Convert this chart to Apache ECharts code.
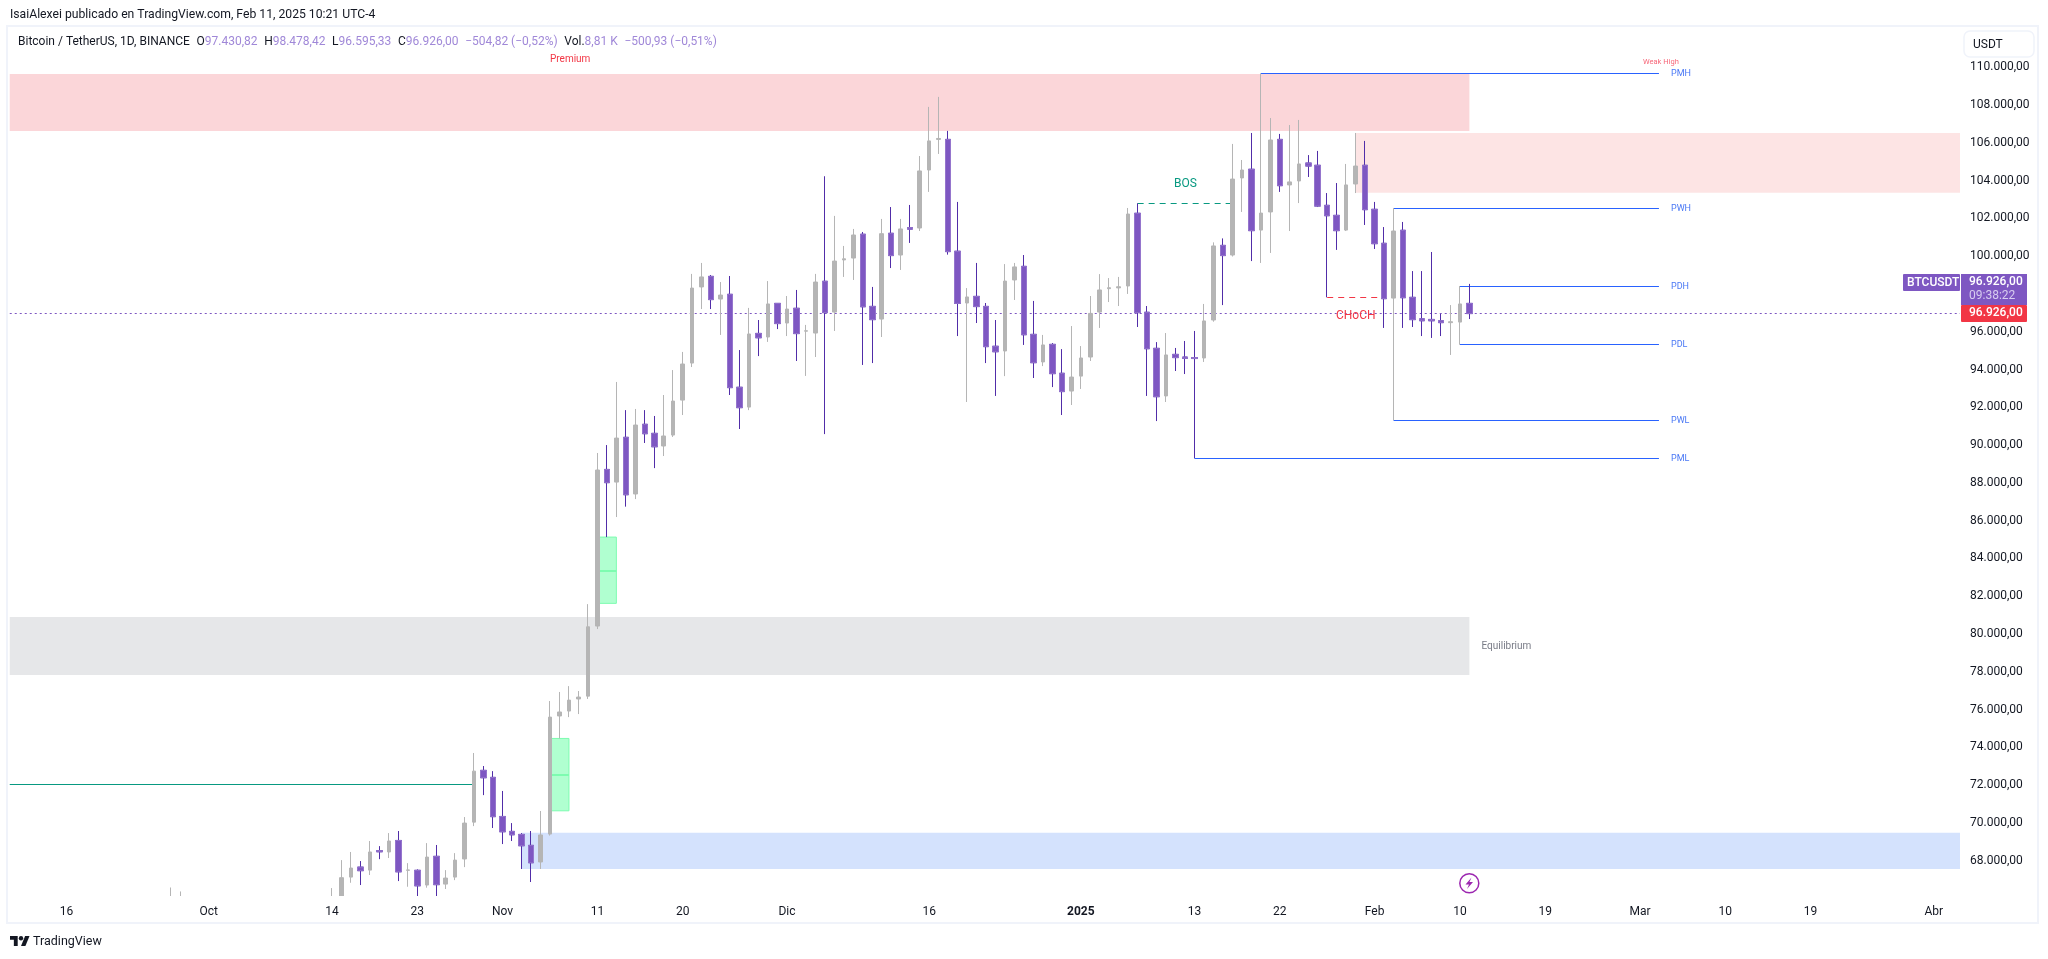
<!DOCTYPE html>
<html>
<head>
<meta charset="utf-8">
<title>BTCUSDT 1D</title>
<script src="https://cdn.jsdelivr.net/npm/echarts@6/dist/echarts.min.js"></script>
<style>
  html, body { margin: 0; padding: 0; background: #fff; }
  #container { width: 2048px; height: 959px; }
</style>
</head>
<body>
<div id="container"></div>
<script>
// daily candles per month, each row is [open, high, low, close]
const sep24 = [ // from Sep 27
    [65200, 66450, 64800, 65770], [65770, 66240, 65400, 65860]
];
const oct24 = [ // from Oct 14
    [63000, 66420, 62800, 65950], [65950, 67900, 64800, 66970], [67000, 68330, 66700, 67480],
    [67530, 67850, 66580, 67340], [67370, 68910, 67110, 68330], [68400, 68640, 67950, 68340],
    [68330, 69330, 68010, 68910], [68940, 69440, 66790, 67280], [67360, 67740, 66490, 67380],
    [67360, 67410, 65300, 66540], [66580, 68800, 66440, 68060], [68100, 68700, 65500, 66600],
    [66630, 67370, 66370, 66950], [67000, 68270, 66840, 67900], [67960, 70180, 67530, 69860],
    [69910, 73570, 69700, 72610], [72650, 72880, 71340, 72260], [72280, 72610, 69600, 70200]
];
const nov24 = [
    [70210, 71560, 68750, 69400], [69420, 69860, 68910, 69240], [69260, 69330, 67430, 68660],
    [68680, 69440, 66740, 67760], [67800, 70500, 67430, 69230], [69280, 76320, 69200, 75470],
    [75530, 76800, 74340, 75740], [75790, 77110, 75470, 76370], [76430, 76850, 75630, 76530],
    [76580, 81450, 76430, 80250], [80290, 89450, 80130, 88550], [88580, 89870, 85000, 87880],
    [87910, 93210, 86060, 90240], [90280, 91720, 86610, 87240], [87280, 91780, 87010, 90930],
    [90970, 91720, 89980, 90470], [90490, 91410, 88650, 89780], [89820, 92520, 89290, 90350],
    [90400, 93840, 90300, 92200], [92250, 94800, 91460, 94160], [94210, 98930, 94000, 98180],
    [98240, 99510, 97070, 98770], [98800, 98870, 97070, 97570], [97600, 98500, 95700, 97810],
    [97850, 98820, 92520, 92910], [92930, 94900, 90720, 91850], [91880, 97130, 91720, 95750],
    [95780, 96490, 94580, 95550], [95590, 98550, 95330, 97340], [97370, 97370, 96010, 96300]
];
const dec24 = [
    [96330, 97760, 95640, 97070], [97110, 98080, 94320, 95770], [95900, 96230, 93530, 95920],
    [95800, 98930, 94530, 98500], [98540, 104100, 90450, 96880], [96910, 102000, 95910, 99610],
    [99670, 100410, 98770, 99730], [99770, 101310, 98610, 100990], [101030, 101150, 94110, 97190],
    [97210, 98240, 94210, 96510], [96540, 101840, 95590, 101060], [101080, 102470, 99240, 99900],
    [99930, 101840, 99140, 101310], [101380, 102580, 100570, 101300], [101360, 105170, 101200, 104380],
    [104430, 107770, 103270, 105970], [106050, 108300, 105280, 106100], [106050, 106500, 99950, 100110],
    [100130, 102740, 95640, 97370], [97390, 98180, 92150, 97710], [97740, 99510, 96330, 97200],
    [97210, 97390, 94210, 95080], [95100, 96490, 92470, 94810], [94850, 99450, 93520, 98550],
    [98610, 99510, 97550, 99300], [99330, 99930, 95170, 95710], [95730, 97500, 93420, 94230],
    [94270, 95700, 94050, 95170], [95200, 95270, 92940, 93650], [93670, 94950, 91460, 92700],
    [92730, 96170, 91990, 93470]
];
const jan25 = [
    [93520, 95110, 92840, 94480], [94530, 97760, 94320, 96840], [96910, 98920, 96070, 98080],
    [98150, 98710, 97440, 98200], [98190, 98770, 97230, 98250], [98290, 102420, 97870, 102100],
    [102140, 102670, 96120, 96880], [96900, 97230, 92470, 94970], [94990, 95320, 91140, 92430],
    [92470, 95800, 92150, 94640], [94670, 95010, 93790, 94500], [94530, 95380, 93630, 94460],
    [94500, 95910, 89170, 94450], [94480, 97340, 94270, 96440], [96490, 100600, 96400, 100410],
    [100440, 100810, 97280, 99900], [99930, 105810, 99850, 103950], [104010, 104960, 102210, 104430],
    [104470, 106390, 99610, 101220], [101250, 109550, 99510, 102150], [102210, 107180, 100040, 106020],
    [106050, 106340, 103270, 103600], [103640, 106810, 101200, 103800], [103850, 107080, 102680, 104750],
    [104800, 105220, 104060, 104640], [104680, 105440, 102470, 102520], [102560, 103210, 97690, 102010],
    [102030, 103740, 100200, 101220], [101250, 104750, 101200, 103640], [103690, 106390, 103210, 104640],
    [104680, 105970, 101520, 102330]
];
const feb25 = [
    [102350, 102740, 100250, 100530], [100550, 101410, 96070, 97620], [97650, 102420, 91180, 101200],
    [101240, 101680, 96070, 97670], [97690, 99080, 96120, 96510], [96550, 99080, 95640, 96450],
    [96520, 100090, 95540, 96450], [96450, 96810, 95640, 96350], [96350, 97280, 94640, 96400],
    [96380, 98290, 95180, 97340], [97370, 98400, 96540, 96830]
];
const candleMonths = [
    ['2024-09-27', sep24], ['2024-10-14', oct24], ['2024-11-01', nov24],
    ['2024-12-01', dec24], ['2025-01-01', jan25], ['2025-02-01', feb25]
];

// time axis
const firstDay = '2024-09-10';
const dayCount = 207;
const tickLabels = {
    '2024-09-16': '16', '2024-10-01': 'Oct', '2024-10-14': '14', '2024-10-23': '23',
    '2024-11-01': 'Nov', '2024-11-11': '11', '2024-11-20': '20', '2024-12-01': 'Dic',
    '2024-12-16': '16', '2025-01-01': '2025', '2025-01-13': '13', '2025-01-22': '22',
    '2025-02-01': 'Feb', '2025-02-10': '10', '2025-02-19': '19', '2025-03-01': 'Mar',
    '2025-03-10': '10', '2025-03-19': '19', '2025-04-01': 'Abr'
};

// shaded zones: [name, start day, end day, top price, bottom price]
const premiumZone = ['Premium', '2024-09-10', '2025-02-11', 109510, 106500];
const supplyZone = ['Supply', '2025-01-30', '2025-04-04', 106390, 103230];
const equilibriumZone = ['Equilibrium', '2024-09-10', '2025-02-11', 80770, 77700];
const discountZone = ['Discount', '2024-11-03', '2025-04-04', 69350, 67430];
const gapZones = [
    ['2024-11-06', '2024-11-08', 74340, 70510, 72400],
    ['2024-11-11', '2024-11-13', 85000, 81490, 83220]
];

// liquidity levels
const levelNames = ['PMH', 'PWH', 'PDH', 'PDL', 'PWL', 'PML'];
const levelValues = [109550, 102400, 98270, 95200, 91180, 89170];
const levelStarts = ['2025-01-20', '2025-02-03', '2025-02-10', '2025-02-10', '2025-02-03', '2025-01-13'];
const levelEnd = '2025-03-03';

// structure lines: [start day, end day, price]
const swingLine = ['2024-09-10', '2024-10-29', 71910];
const bosLine = ['2025-01-07', '2025-01-17', 102670];
const chochLine = ['2025-01-27', '2025-02-02', 97690];
const lastPrice = 96840;

const fontName = 'Roboto, sans-serif';
const ink = '#131722';
const legendPurple = '#a088d8';

const categories = [];
const startTime = Date.parse(firstDay + 'T00:00:00Z');
for (let i = 0; i < dayCount; i++) {
    categories.push(new Date(startTime + i * 86400000).toISOString().slice(0, 10));
}

const upData = categories.map(() => '-');
const downData = categories.map(() => '-');
const downBodies = categories.map(() => '-');
candleMonths.forEach(([start, rows]) => {
    const first = categories.indexOf(start);
    rows.forEach(([o, h, l, c], i) => {
        if (c >= o) {
            upData[first + i] = [o, c, l, h];
        } else {
            downData[first + i] = [o, c, l, h];
            downBodies[first + i] = [o, c, c, o];
        }
    });
});

function zoneArea(zone, color) {
    return [
        { coord: [zone[1], zone[3]], itemStyle: { color: color, borderWidth: 0 } },
        { coord: [zone[2], zone[4]] }
    ];
}

function segment(from, to, value, lineStyle, label) {
    const start = { coord: [from, value], lineStyle: lineStyle };
    if (label) start.label = label;
    return [start, { coord: [to, value] }];
}

const levelBlue = { color: '#2962ff', width: 1, type: 'solid' };
const lineData = [
    segment(swingLine[0], swingLine[1], swingLine[2], { color: '#089981', width: 1, type: 'solid' }),
    segment(bosLine[0], bosLine[1], bosLine[2], { color: '#089981', width: 1, type: [6, 5] }),
    segment(chochLine[0], chochLine[1], chochLine[2], { color: '#f23645', width: 1, type: [6, 5] }),
    segment(categories[0], categories[dayCount - 1], lastPrice, { color: '#7e57c2', width: 1, type: [2, 3] })
];
levelNames.forEach((name, i) => {
    lineData.push(segment(levelStarts[i], levelEnd, levelValues[i], levelBlue, {
        show: true, position: 'end', distance: 12, formatter: name,
        color: '#4a78f5', fontSize: 9, fontFamily: fontName
    }));
});
gapZones.forEach((gap) => {
    lineData.push(segment(gap[0], gap[1], gap[4], { color: '#7dfcb0', width: 2, type: 'solid' }));
});

const areaData = [
    zoneArea(premiumZone, '#fbd6d9'),
    zoneArea(supplyZone, '#fde4e4'),
    zoneArea(equilibriumZone, '#e6e7e9'),
    zoneArea(discountZone, '#d4e2fd')
];
gapZones.forEach((gap) => {
    areaData.push([
        { coord: [gap[0], gap[2]], itemStyle: { color: '#b0ffd0', borderColor: '#7dfcb0', borderWidth: 1 } },
        { coord: [gap[1], gap[3]] }
    ]);
});

function label(x, y, text, color, size, extra) {
    return {
        type: 'text', x: x, y: y, z: 50,
        style: Object.assign({
            text: text, fill: color, fontSize: size, fontFamily: fontName, verticalAlign: 'middle'
        }, extra || {})
    };
}

const legendRich = {
    d: { fill: ink, color: ink, fontSize: 12, fontFamily: fontName },
    p: { fill: legendPurple, color: legendPurple, fontSize: 12, fontFamily: fontName }
};

const graphic = [
    // masks so zones and candles stop at the pane edges
    { type: 'rect', z: 40, shape: { x: 0, y: 0, width: 7, height: 959 }, style: { fill: '#fff' } },
    { type: 'rect', z: 40, shape: { x: 1960, y: 27, width: 8, height: 870 }, style: { fill: '#fff' } },
    { type: 'rect', z: 40, shape: { x: 7, y: 896, width: 1962, height: 63 }, style: { fill: '#fff' } },
    { type: 'rect', z: 41, shape: { x: 7, y: 26, width: 2031, height: 897 }, style: { fill: 'none', stroke: '#f0f3fa', lineWidth: 2 } },
    label(10, 15, 'IsaiAlexei publicado en TradingView.com, Feb 11, 2025 10:21 UTC-4', ink, 12.2),
    {
        type: 'text', x: 18, y: 41.5, z: 50,
        style: {
            text: '{d|Bitcoin / TetherUS, 1D, BINANCE}  {d|O}{p|97.430,82}  {d|H}{p|98.478,42}  {d|L}{p|96.595,33}  {d|C}{p|96.926,00}  {p|−504,82 (−0,52%)}  {d|Vol.}{p|8,81 K}  {p|−500,93 (−0,51%)}',
            rich: legendRich, verticalAlign: 'middle'
        }
    },
    label(550, 59, 'Premium', '#f23645', 10),
    label(1643, 61.7, 'Weak High', '#f7687a', 7.5),
    label(1481.5, 646.5, 'Equilibrium', '#787b86', 10),
    label(1174, 183.7, 'BOS', '#089981', 12),
    label(1336, 316, 'CHoCH', '#f23645', 12),
    // price tags
    { type: 'rect', z: 45, shape: { x: 1903, y: 274, width: 57, height: 17, r: 1 }, style: { fill: '#7e57c2' } },
    label(1907, 282.5, 'BTCUSDT', '#fff', 12, { fontWeight: 500 }),
    { type: 'rect', z: 45, shape: { x: 1961, y: 274, width: 66, height: 31 }, style: { fill: '#7e57c2' } },
    label(1969, 281.7, '96.926,00', '#fff', 12, { fontWeight: 500 }),
    label(1969, 295.7, '09:38:22', '#d8cdf0', 12),
    { type: 'rect', z: 45, shape: { x: 1961, y: 305, width: 66, height: 17, r: 1 }, style: { fill: '#f23645' } },
    label(1969, 312.5, '96.926,00', '#fff', 12, { fontWeight: 500 }),
    // currency button
    { type: 'rect', z: 45, shape: { x: 1964, y: 31, width: 70, height: 26, r: 6 }, style: { fill: '#fff', stroke: '#f0f3fa', lineWidth: 1.5 } },
    label(1973, 44.5, 'USDT', ink, 12),
    // dividend flash mark
    { type: 'circle', z: 45, shape: { cx: 1469.3, cy: 883.3, r: 9.5 }, style: { fill: '#fff', stroke: '#9c27b0', lineWidth: 1.5 } },
    { type: 'polygon', z: 46, shape: { points: [[1471.5, 877.5], [1465.5, 884.5], [1469, 884.5], [1467, 889], [1473, 882], [1469.5, 882]] }, style: { fill: '#9c27b0' } },
    // footer logo
    {
        type: 'group', x: 10, y: 936, scaleX: 0.55, scaleY: 0.55, z: 50,
        children: [
            { type: 'polygon', z: 50, shape: { points: [[0, 0], [14, 0], [14, 18], [7, 18], [7, 7], [0, 7]] }, style: { fill: ink } },
            { type: 'circle', z: 50, shape: { cx: 20, cy: 4, r: 4 }, style: { fill: ink } },
            { type: 'polygon', z: 50, shape: { points: [[27.5, 0], [35.5, 0], [28, 18], [20, 18]] }, style: { fill: ink } }
        ]
    },
    label(33, 942, 'TradingView', ink, 12.5)
];

const chart = echarts.init(document.getElementById('container'), null, { renderer: 'canvas' });

const option = {
    animation: false,
    backgroundColor: '#fff',
    grid: { left: 5, top: 27, width: 1962, height: 869, containLabel: false },
    xAxis: {
        type: 'category',
        data: categories,
        boundaryGap: true,
        z: 60,
        axisLine: { show: false },
        axisTick: { show: false },
        splitLine: { show: false },
        axisLabel: {
            interval: (index, value) => value in tickLabels,
            hideOverlap: false,
            margin: 7,
            color: ink,
            fontSize: 12,
            fontFamily: fontName,
            padding: [3, 0, 0, 0],
            formatter: (value) => tickLabels[value] === '2025' ? '{b|2025}' : tickLabels[value],
            rich: { b: { fontWeight: 'bold', fontSize: 12, color: ink, fontFamily: fontName } }
        }
    },
    yAxis: {
        type: 'value',
        position: 'right',
        min: 66000,
        max: 112000,
        interval: 2000,
        scale: true,
        z: 30,
        axisLine: { show: false },
        axisTick: { show: false },
        splitLine: { show: false },
        axisLabel: {
            margin: 3,
            align: 'left',
            color: ink,
            fontSize: 12,
            fontFamily: fontName,
            formatter: (value) => (value <= 66000 || value >= 112000) ? '' :
                '{a|' + (value / 1000).toFixed(3) + ',00}',
            rich: { a: { color: ink, fontSize: 12, fontFamily: fontName, padding: [5, 0, 0, 0] } }
        }
    },
    graphic: graphic,
    series: [
        {
            name: 'Zones',
            type: 'line',
            data: [],
            silent: true,
            markArea: { silent: true, z: 0, data: areaData },
            markLine: { silent: true, z: 1, symbol: 'none', label: { show: false }, data: lineData }
        },
        {
            name: 'Up',
            type: 'candlestick',
            barWidth: 4,
            z: 2,
            data: upData,
            itemStyle: { color: '#b5b5b5', color0: '#b5b5b5', borderColor: '#b5b5b5', borderColor0: '#b5b5b5', borderColorDoji: '#b5b5b5', borderWidth: 1 }
        },
        {
            name: 'Down',
            type: 'candlestick',
            barWidth: 6,
            z: 3,
            data: downData,
            itemStyle: { color: '#7e57c2', color0: '#7e57c2', borderColor: '#512da8', borderColor0: '#512da8', borderWidth: 1 }
        },
        {
            name: 'Down body',
            type: 'candlestick',
            barWidth: 6,
            z: 4,
            data: downBodies,
            itemStyle: { color: '#7e57c2', color0: '#7e57c2', borderColor: '#9575cd', borderColor0: '#9575cd', borderWidth: 1 }
        }
    ]
};

chart.setOption(option);
window.addEventListener('resize', chart.resize);
</script>
</body>
</html>
